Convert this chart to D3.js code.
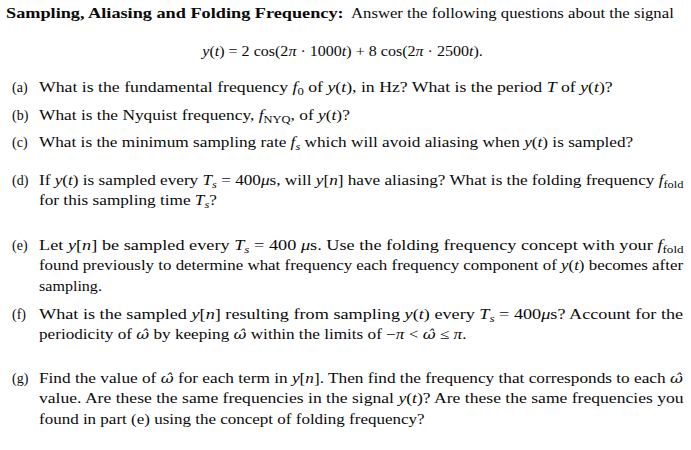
<!DOCTYPE html>
<html>
<head>
<meta charset="utf-8">
<script src="https://cdn.jsdelivr.net/npm/d3@7"></script>
<style>
  body { margin: 0; background: #fff; }
  svg text { font-family: "Liberation Serif", "DejaVu Serif", serif; fill: #0a0a0a; white-space: pre; }
</style>
</head>
<body>
<script>
/* Text content */
const TITLE_BOLD = "Sampling, Aliasing and Folding Frequency:";
const TITLE_TEXT = "Answer the following questions about the signal";
const EQUATION = "<i>y</i>(<i>t</i>) = 2 cos(2<i>π</i> · 1000<i>t</i>) + 8 cos(2<i>π</i> · 2500<i>t</i>).";

const ITEM_LABELS = ["(a)", "(b)", "(c)", "(d)", "(e)", "(f)", "(g)"];

const ITEM_LINES = [
  ["What is the fundamental frequency <i>f</i><sub>0</sub> of <i>y</i>(<i>t</i>), in Hz? What is the period <i>T</i> of <i>y</i>(<i>t</i>)?"],
  ["What is the Nyquist frequency, <i>f</i><sub>NYQ</sub>, of <i>y</i>(<i>t</i>)?"],
  ["What is the minimum sampling rate <i>f</i><isub>s</isub> which will avoid aliasing when <i>y</i>(<i>t</i>) is sampled?"],
  ["If <i>y</i>(<i>t</i>) is sampled every <i>T</i><isub>s</isub> = 400<i>μ</i>s, will <i>y</i>[<i>n</i>] have aliasing? What is the folding frequency <i>f</i><sub>fold</sub>",
   "for this sampling time <i>T</i><isub>s</isub>?"],
  ["Let <i>y</i>[<i>n</i>] be sampled every <i>T</i><isub>s</isub> = 400 <i>μ</i>s. Use the folding frequency concept with your <i>f</i><sub>fold</sub>",
   "found previously to determine what frequency each frequency component of <i>y</i>(<i>t</i>) becomes after",
   "sampling."],
  ["What is the sampled <i>y</i>[<i>n</i>] resulting from sampling <i>y</i>(<i>t</i>) every <i>T</i><isub>s</isub> = 400<i>μ</i>s? Account for the",
   "periodicity of <w>ω̂</w> by keeping <w>ω̂</w> within the limits of −<i>π</i> < <w>ω̂</w> ≤ <i>π</i>."],
  ["Find the value of <w>ω̂</w> for each term in <i>y</i>[<i>n</i>]. Then find the frequency that corresponds to each <w>ω̂</w>",
   "value. Are these the same frequencies in the signal <i>y</i>(<i>t</i>)? Are these the same frequencies you",
   "found in part (e) using the concept of folding frequency?"]
];

/* Layout */
const W = 691, H = 450;
const FONT = 14;
const LEFT = 6, LABEL_X = 12, TEXT_X = 39;
const TITLE_Y = 18, EQ_Y = 56;
const ITEM_Y = [92, 120, 147, 185, 250, 319, 383];
const LINE_GAP = 20.5;
// right edge of each line (justified lines run to 684)
const LINE_END = [[613], [350], [634], [684, 217], [684, 684, 102], [684, 467], [684, 684, 425]];

/* Rich text helper: <b>, <i>, <sub>, <isub>, <w> (accented omega) */
let addRich = (sel, markup) => {
  const re = /<(b|i|sub|isub|w)>(.*?)<\/\1>/g;
  let parts = [], last = 0, m;
  while ((m = re.exec(markup))) {
    if (m.index > last) parts.push({ tag: null, s: markup.slice(last, m.index) });
    parts.push({ tag: m[1], s: m[2] });
    last = re.lastIndex;
  }
  if (last < markup.length) parts.push({ tag: null, s: markup.slice(last) });

  let shift = 0;
  parts.forEach(p => {
    const isSub = p.tag === "sub" || p.tag === "isub";
    const ts = sel.append("tspan").text(p.s);
    const want = isSub ? 3 : 0;
    if (want !== shift) { ts.attr("dy", want - shift); shift = want; }
    if (p.tag === "i" || p.tag === "isub" || p.tag === "w") ts.style("font-style", "italic");
    if (p.tag === "w") ts.style("font-family", "'DejaVu Serif'").style("font-size", "92%");
    if (p.tag === "b") ts.style("font-weight", "bold");
    if (isSub) ts.style("font-size", "72%");
  });
};

/* Stretch a text element horizontally so it runs from its start to x1 */
let fitTo = (node, x1) => {
  const b = node.getBBox();
  const sx = (x1 - b.x) / b.width;
  d3.select(node).attr("transform", `translate(${b.x},0) scale(${sx},1) translate(${-b.x},0)`);
};

/* SVG */
const svg = d3.select("body")
  .append("svg")
  .attr("width", W)
  .attr("height", H)
  .style("font-size", FONT + "px");

/* Title line */
const t1 = svg.append("text")
  .attr("x", LEFT)
  .attr("y", TITLE_Y)
  .style("font-weight", "bold")
  .text(TITLE_BOLD);
fitTo(t1.node(), 344);

const t2 = svg.append("text")
  .attr("x", 351)
  .attr("y", TITLE_Y)
  .text(TITLE_TEXT);
fitTo(t2.node(), 674);

/* Equation */
const eq = svg.append("text")
  .attr("x", 202)
  .attr("y", EQ_Y);
addRich(eq, EQUATION);
fitTo(eq.node(), 483);

/* Items */
const rows = [];
ITEM_LINES.forEach((lines, i) => {
  lines.forEach((markup, j) => {
    rows.push({ item: i, line: j, markup: markup, end: LINE_END[i][j] });
  });
});

svg.selectAll(".label")
  .data(ITEM_LABELS)
  .enter()
  .append("text")
  .attr("class", "label")
  .attr("x", LABEL_X)
  .attr("y", (d, i) => ITEM_Y[i])
  .text(d => d);

svg.selectAll(".line")
  .data(rows)
  .enter()
  .append("text")
  .attr("class", "line")
  .attr("x", TEXT_X)
  .attr("y", d => ITEM_Y[d.item] + d.line * LINE_GAP)
  .each(function (d) {
    addRich(d3.select(this), d.markup);
    fitTo(this, d.end);
  });
</script>
</body>
</html>
